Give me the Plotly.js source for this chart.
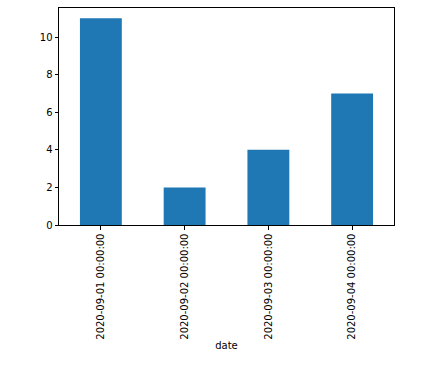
<!DOCTYPE html>
<html><head><meta charset="utf-8">
<script src="https://cdn.plot.ly/plotly-3.0.1.min.js"></script>
<style>html,body{margin:0;padding:0;background:#fff}</style>
</head><body>
<div id="chart" style="width:426px;height:365px"></div>
<script>
const categories = ["2020-09-01 00:00:00","2020-09-02 00:00:00","2020-09-03 00:00:00","2020-09-04 00:00:00"];
const values = [11, 2, 4, 7];
const yTicks = [0, 2, 4, 6, 8, 10];

const trace = {
  type: 'bar', x: categories, y: values, width: 0.5,
  marker: {color: '#1f77b4', line: {width: 0}}, hoverinfo: 'none'
};
const layout = {
  width: 426, height: 365,
  margin: {l: 59, r: 32, t: 8, b: 140, pad: 0},
  paper_bgcolor: '#fff', plot_bgcolor: '#fff',
  font: {family: 'DejaVu Sans', size: 10, color: '#000'},
  showlegend: false,
  xaxis: {
    type: 'category', range: [-0.5, 3.5], tickangle: -90,
    showline: true, mirror: true, linecolor: '#000', linewidth: 1,
    ticks: 'outside', ticklen: 3.5, tickcolor: '#000', tickwidth: 1,
    showgrid: false, zeroline: false, automargin: false,
    title: {text: 'date', font: {size: 10}, standoff: 3}
  },
  yaxis: {
    range: [0, 11.55], tickvals: yTicks, ticktext: yTicks.map(String),
    showline: true, mirror: true, linecolor: '#000', linewidth: 1,
    ticks: 'outside', ticklen: 3.5, tickcolor: '#000', tickwidth: 1,
    showgrid: false, zeroline: false, automargin: false
  }
};
Plotly.newPlot('chart', [trace], layout, {staticPlot: true, displayModeBar: false});
</script>
</body></html>
